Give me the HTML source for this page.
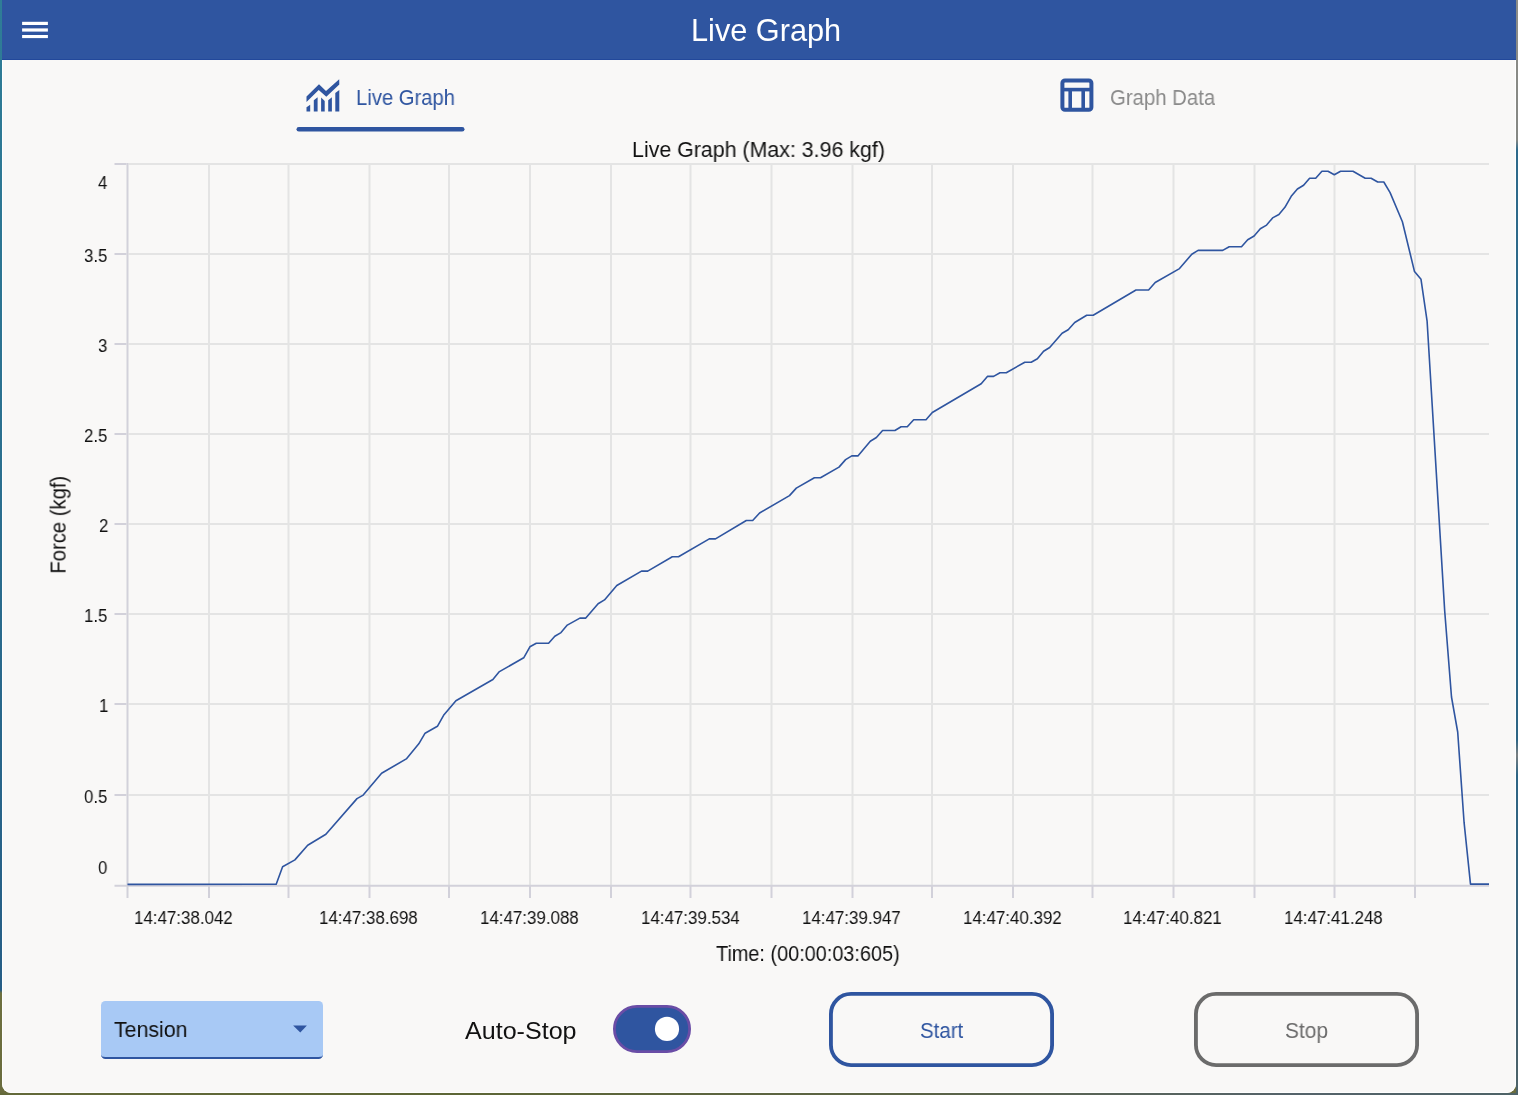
<!DOCTYPE html>
<html><head><meta charset="utf-8"><style>
*{margin:0;padding:0;box-sizing:border-box}
html,body{width:1518px;height:1095px;overflow:hidden}
body{position:relative;font-family:"Liberation Sans",sans-serif;background:linear-gradient(180deg,#2f7d97 0px,#2b6f8f 500px,#275e86 990px,#6e7040 993px,#6a6c3e 1095px)}
.desk-r{position:absolute;right:0;top:0;width:2px;height:1095px;background:linear-gradient(180deg,#8d8d88 0px,#858783 140px,#2d6a8b 150px,#2d6585 740px,#7a7f80 755px,#2d6585 775px,#3f5f72 1000px,#4e6367 1095px)}
.desk-b{position:absolute;left:0;bottom:0;width:1518px;height:2px;background:linear-gradient(90deg,#646a3a 0%,#5d6636 30%,#5c6446 60%,#55636a 85%,#4e6367 100%)}
.win{position:absolute;left:2px;top:0;width:1514px;height:1093px;background:#f9f8f7;border-radius:0 0 9px 9px;overflow:hidden;box-shadow:inset 0 0 0 1px #ffffff}
.hdr{position:absolute;left:0;top:0;width:1514px;height:60px;background:#2f55a0;border-bottom:1px solid #22489b}
.ham{position:absolute;left:20px;width:26px;height:3px;background:#fff}
.t{position:absolute;white-space:nowrap;transform-origin:0 0;will-change:transform}
svg{position:absolute;left:0;top:0}
</style></head><body>
<div class="desk-r"></div><div class="desk-b"></div>
<div class="win">
 <div class="hdr">
 </div>
</div>
<svg width="1518" height="1095" viewBox="0 0 1518 1095">
 <g fill="#2f55a0">
  <polygon points="306.5,96.5 319,84.2 326,91 339.2,79.3 339.3,84.5 326.3,96.8 318.7,89.9 306.5,102"/>
  <polygon points="306.5,107.2 310.2,104.8 310.2,111.4 306.5,111.4"/>
  <polygon points="313.8,100.3 317.6,97.2 317.6,111.4 313.8,111.4"/>
  <polygon points="321.1,97.5 324.7,101 324.7,111.4 321.1,111.4"/>
  <polygon points="328.2,100.3 331.9,97.2 331.9,111.4 328.2,111.4"/>
  <polygon points="335.3,93 339.3,89.9 339.3,111.4 335.3,111.4"/>
 </g>
 <rect x="296.5" y="127" width="168" height="4.6" rx="2.3" fill="#2f55a0"/>
 <rect x="22.1" y="21.8" width="25.8" height="3.2" fill="#ffffff"/>
 <rect x="22.1" y="28.4" width="25.8" height="3.2" fill="#ffffff"/>
 <rect x="22.1" y="35.0" width="25.8" height="3.1" fill="#ffffff"/>
 <rect x="1062.4" y="80.5" width="29" height="29.3" rx="2.6" fill="none" stroke="#2f55a0" stroke-width="4"/>
 <rect x="1062.4" y="87.8" width="29" height="3.6" fill="#2f55a0"/>
 <rect x="1068.4" y="89" width="3.6" height="20" fill="#2f55a0"/>
 <rect x="1081.4" y="89" width="3.6" height="20" fill="#2f55a0"/>
<line x1="128.5" y1="164" x2="1489" y2="164" stroke="#e4e4e4" stroke-width="2"/>
<line x1="114.5" y1="164" x2="126.5" y2="164" stroke="#d2d1da" stroke-width="2"/>
<line x1="128.5" y1="254" x2="1489" y2="254" stroke="#e4e4e4" stroke-width="2"/>
<line x1="114.5" y1="254" x2="126.5" y2="254" stroke="#d2d1da" stroke-width="2"/>
<line x1="128.5" y1="344" x2="1489" y2="344" stroke="#e4e4e4" stroke-width="2"/>
<line x1="114.5" y1="344" x2="126.5" y2="344" stroke="#d2d1da" stroke-width="2"/>
<line x1="128.5" y1="434" x2="1489" y2="434" stroke="#e4e4e4" stroke-width="2"/>
<line x1="114.5" y1="434" x2="126.5" y2="434" stroke="#d2d1da" stroke-width="2"/>
<line x1="128.5" y1="524" x2="1489" y2="524" stroke="#e4e4e4" stroke-width="2"/>
<line x1="114.5" y1="524" x2="126.5" y2="524" stroke="#d2d1da" stroke-width="2"/>
<line x1="128.5" y1="614" x2="1489" y2="614" stroke="#e4e4e4" stroke-width="2"/>
<line x1="114.5" y1="614" x2="126.5" y2="614" stroke="#d2d1da" stroke-width="2"/>
<line x1="128.5" y1="704" x2="1489" y2="704" stroke="#e4e4e4" stroke-width="2"/>
<line x1="114.5" y1="704" x2="126.5" y2="704" stroke="#d2d1da" stroke-width="2"/>
<line x1="128.5" y1="795" x2="1489" y2="795" stroke="#e4e4e4" stroke-width="2"/>
<line x1="114.5" y1="795" x2="126.5" y2="795" stroke="#d2d1da" stroke-width="2"/>
<line x1="209" y1="163" x2="209" y2="885" stroke="#e4e4e4" stroke-width="2"/>
<line x1="209" y1="885" x2="209" y2="898" stroke="#d2d1da" stroke-width="2"/>
<line x1="288.5" y1="163" x2="288.5" y2="885" stroke="#e4e4e4" stroke-width="2"/>
<line x1="288.5" y1="885" x2="288.5" y2="898" stroke="#d2d1da" stroke-width="2"/>
<line x1="369.5" y1="163" x2="369.5" y2="885" stroke="#e4e4e4" stroke-width="2"/>
<line x1="369.5" y1="885" x2="369.5" y2="898" stroke="#d2d1da" stroke-width="2"/>
<line x1="449" y1="163" x2="449" y2="885" stroke="#e4e4e4" stroke-width="2"/>
<line x1="449" y1="885" x2="449" y2="898" stroke="#d2d1da" stroke-width="2"/>
<line x1="530" y1="163" x2="530" y2="885" stroke="#e4e4e4" stroke-width="2"/>
<line x1="530" y1="885" x2="530" y2="898" stroke="#d2d1da" stroke-width="2"/>
<line x1="611" y1="163" x2="611" y2="885" stroke="#e4e4e4" stroke-width="2"/>
<line x1="611" y1="885" x2="611" y2="898" stroke="#d2d1da" stroke-width="2"/>
<line x1="690.5" y1="163" x2="690.5" y2="885" stroke="#e4e4e4" stroke-width="2"/>
<line x1="690.5" y1="885" x2="690.5" y2="898" stroke="#d2d1da" stroke-width="2"/>
<line x1="771.5" y1="163" x2="771.5" y2="885" stroke="#e4e4e4" stroke-width="2"/>
<line x1="771.5" y1="885" x2="771.5" y2="898" stroke="#d2d1da" stroke-width="2"/>
<line x1="852.5" y1="163" x2="852.5" y2="885" stroke="#e4e4e4" stroke-width="2"/>
<line x1="852.5" y1="885" x2="852.5" y2="898" stroke="#d2d1da" stroke-width="2"/>
<line x1="932" y1="163" x2="932" y2="885" stroke="#e4e4e4" stroke-width="2"/>
<line x1="932" y1="885" x2="932" y2="898" stroke="#d2d1da" stroke-width="2"/>
<line x1="1013" y1="163" x2="1013" y2="885" stroke="#e4e4e4" stroke-width="2"/>
<line x1="1013" y1="885" x2="1013" y2="898" stroke="#d2d1da" stroke-width="2"/>
<line x1="1092.5" y1="163" x2="1092.5" y2="885" stroke="#e4e4e4" stroke-width="2"/>
<line x1="1092.5" y1="885" x2="1092.5" y2="898" stroke="#d2d1da" stroke-width="2"/>
<line x1="1173.5" y1="163" x2="1173.5" y2="885" stroke="#e4e4e4" stroke-width="2"/>
<line x1="1173.5" y1="885" x2="1173.5" y2="898" stroke="#d2d1da" stroke-width="2"/>
<line x1="1254.5" y1="163" x2="1254.5" y2="885" stroke="#e4e4e4" stroke-width="2"/>
<line x1="1254.5" y1="885" x2="1254.5" y2="898" stroke="#d2d1da" stroke-width="2"/>
<line x1="1334.5" y1="163" x2="1334.5" y2="885" stroke="#e4e4e4" stroke-width="2"/>
<line x1="1334.5" y1="885" x2="1334.5" y2="898" stroke="#d2d1da" stroke-width="2"/>
<line x1="1415" y1="163" x2="1415" y2="885" stroke="#e4e4e4" stroke-width="2"/>
<line x1="1415" y1="885" x2="1415" y2="898" stroke="#d2d1da" stroke-width="2"/>
<line x1="127.5" y1="163" x2="127.5" y2="898" stroke="#d2d1da" stroke-width="2"/>
<line x1="114.5" y1="885.8" x2="1489" y2="885.8" stroke="#d2d1da" stroke-width="2"/>
<polyline points="127.5,884.4 276.2,884.3 282.6,866.7 294.9,859.9 307.7,845.2 325.9,834.2 357,798.6 363.2,795.1 381.6,773.2 406.3,758.9 418.8,743.8 425.1,733.2 437.4,726.3 443.6,715.3 455.9,700.7 492.9,679.5 499,671.9 523.7,657.8 529.9,646.8 536.3,643.3 548.6,643.3 554.8,636.3 561,632.6 567.3,625.1 579.9,618.1 585.8,618.1 598.1,603.7 604.5,599.9 616.8,585.5 641.5,571.1 647.7,571.1 672.3,556.7 678.5,556.7 709.3,538.9 715.5,538.9 746.3,520.5 752.7,520.5 759.6,513 789.5,495.6 796.3,488.1 814.4,477.7 820.5,477.7 839,467.1 845.6,459.6 851.8,455.9 857.9,455.9 870.3,441.2 876.4,437.5 882.6,430.5 894.9,430.5 901.1,426.8 907.3,426.8 913.7,419.7 926,419.7 932.3,412.5 981.2,383.7 987.4,376.4 993.6,376.4 1000,372.7 1006.3,372.7 1024.8,362.2 1031.2,362.2 1037.4,358.8 1043.6,351.2 1049.7,347.5 1062.1,333.2 1068.2,329.7 1074.7,322.5 1086.7,315.3 1093.2,315.3 1136,290 1148.6,290 1155.2,282.5 1179.5,268.6 1191.8,254.2 1198.1,250.4 1222.7,250.4 1229.2,246.7 1241.5,246.7 1247.7,239.7 1254.1,236 1260.3,228.8 1266.6,225.1 1272.6,217.9 1278.9,214.5 1284.9,207.3 1291.2,196.3 1297.4,189 1303.6,185.3 1309.6,178.2 1315.7,178.2 1321.9,171.3 1328,171.3 1334.3,174.8 1340.6,171.3 1353,171.3 1365.2,178.2 1371.1,178.2 1377.7,182 1383.8,182 1390.1,192.6 1402.4,221.7 1414.5,271.6 1421,279.3 1427.1,321.2 1444.7,611 1451.5,697 1457.7,732 1464.1,822.7 1470.5,884.1 1489,884.1" fill="none" stroke="#2f55a0" stroke-width="1.6" stroke-linejoin="round"/>
</svg>
<div style="position:absolute;left:100.6px;top:1000.7px;width:222px;height:58px;background:#a8c9f5;border-radius:4.5px;border-bottom:2px solid #2f55a0"></div>
<svg width="1518" height="1095"><polygon points="293.1,1025.4 306.9,1025.4 300.3,1032.4" fill="#2f55a0"/></svg>
<svg width="1518" height="1095">
 <rect x="614.4" y="1006.4" width="75.2" height="45.2" rx="22.6" fill="#2f55a0" stroke="#6a4da6" stroke-width="2.8"/>
 <circle cx="667" cy="1028.9" r="12.1" fill="#ffffff"/>
 <rect x="830.93" y="993.93" width="221.15" height="71.15" rx="20.1" fill="none" stroke="#2f55a0" stroke-width="3.85"/>
 <rect x="1195.93" y="993.93" width="221.15" height="71.15" rx="20.1" fill="none" stroke="#6b6b6b" stroke-width="3.85"/>
</svg>
<div class="t" style="left:691.4px;top:16.09px;font-size:30.71px;line-height:30.71px;transform:scaleX(0.9975);color:#ffffff">Live Graph</div>
<div class="t" style="left:355.88px;top:87.29px;font-size:22.03px;line-height:22.03px;transform:scaleX(0.9184);color:#2f55a0">Live Graph</div>
<div class="t" style="left:1109.68px;top:87.88px;font-size:21.45px;line-height:21.45px;transform:scaleX(0.9488);color:#8a8a8a">Graph Data</div>
<div class="t" style="left:632.19px;top:139.78px;font-size:21.45px;line-height:21.45px;transform:scaleX(0.9966);color:#111111">Live Graph (Max: 3.96 kgf)</div>
<div class="t" style="left:716.2px;top:942.69px;font-size:22.03px;line-height:22.03px;transform:scaleX(0.9024);color:#111111">Time: (00:00:03:605)</div>
<div class="t" style="left:114.17px;top:1019.16px;font-size:22.17px;line-height:22.17px;transform:scaleX(0.9624);color:#111111">Tension</div>
<div class="t" style="left:465.07px;top:1019.40px;font-size:24.49px;line-height:24.49px;transform:scaleX(1.0244);color:#111111">Auto-Stop</div>
<div class="t" style="left:919.88px;top:1020.88px;font-size:21.45px;line-height:21.45px;transform:scaleX(0.9551);color:#2f55a0">Start</div>
<div class="t" style="left:1284.86px;top:1020.88px;font-size:21.45px;line-height:21.45px;transform:scaleX(0.975);color:#6b6b6b">Stop</div>
<div class="t" style="left:84.27px;top:247.25px;font-size:18.3px;line-height:18.3px;transform:scaleX(0.92);color:#111111">3.5</div>
<div class="t" style="left:98.41px;top:337.25px;font-size:18.3px;line-height:18.3px;transform:scaleX(0.92);color:#111111">3</div>
<div class="t" style="left:84.27px;top:427.25px;font-size:18.3px;line-height:18.3px;transform:scaleX(0.92);color:#111111">2.5</div>
<div class="t" style="left:98.5px;top:517.25px;font-size:18.3px;line-height:18.3px;transform:scaleX(0.92);color:#111111">2</div>
<div class="t" style="left:84.27px;top:607.25px;font-size:18.3px;line-height:18.3px;transform:scaleX(0.92);color:#111111">1.5</div>
<div class="t" style="left:98.5px;top:697.25px;font-size:18.3px;line-height:18.3px;transform:scaleX(0.92);color:#111111">1</div>
<div class="t" style="left:84.27px;top:788.25px;font-size:18.3px;line-height:18.3px;transform:scaleX(0.92);color:#111111">0.5</div>
<div class="t" style="left:98.26px;top:174.35px;font-size:18.3px;line-height:18.3px;transform:scaleX(0.92);color:#111111">4</div>
<div class="t" style="left:98.23px;top:859.35px;font-size:18.3px;line-height:18.3px;transform:scaleX(0.92);color:#111111">0</div>
<div class="t" style="left:133.66px;top:909.25px;font-size:18.3px;line-height:18.3px;transform:scaleX(0.925);color:#111111">14:47:38.042</div>
<div class="t" style="left:318.97px;top:909.25px;font-size:18.3px;line-height:18.3px;transform:scaleX(0.925);color:#111111">14:47:38.698</div>
<div class="t" style="left:480.22px;top:909.25px;font-size:18.3px;line-height:18.3px;transform:scaleX(0.925);color:#111111">14:47:39.088</div>
<div class="t" style="left:640.69px;top:909.25px;font-size:18.3px;line-height:18.3px;transform:scaleX(0.925);color:#111111">14:47:39.534</div>
<div class="t" style="left:801.66px;top:909.25px;font-size:18.3px;line-height:18.3px;transform:scaleX(0.925);color:#111111">14:47:39.947</div>
<div class="t" style="left:962.56px;top:909.25px;font-size:18.3px;line-height:18.3px;transform:scaleX(0.925);color:#111111">14:47:40.392</div>
<div class="t" style="left:1123.06px;top:909.25px;font-size:18.3px;line-height:18.3px;transform:scaleX(0.925);color:#111111">14:47:40.821</div>
<div class="t" style="left:1284.32px;top:909.25px;font-size:18.3px;line-height:18.3px;transform:scaleX(0.925);color:#111111">14:47:41.248</div>
<div class="t" style="left:0;top:0;font-size:21.8px;line-height:21.8px;transform-origin:0 0;transform:translate(47.58px,573.62px) rotate(-90deg) scaleX(0.9288);color:#111111">Force (kgf)</div>
</body></html>
